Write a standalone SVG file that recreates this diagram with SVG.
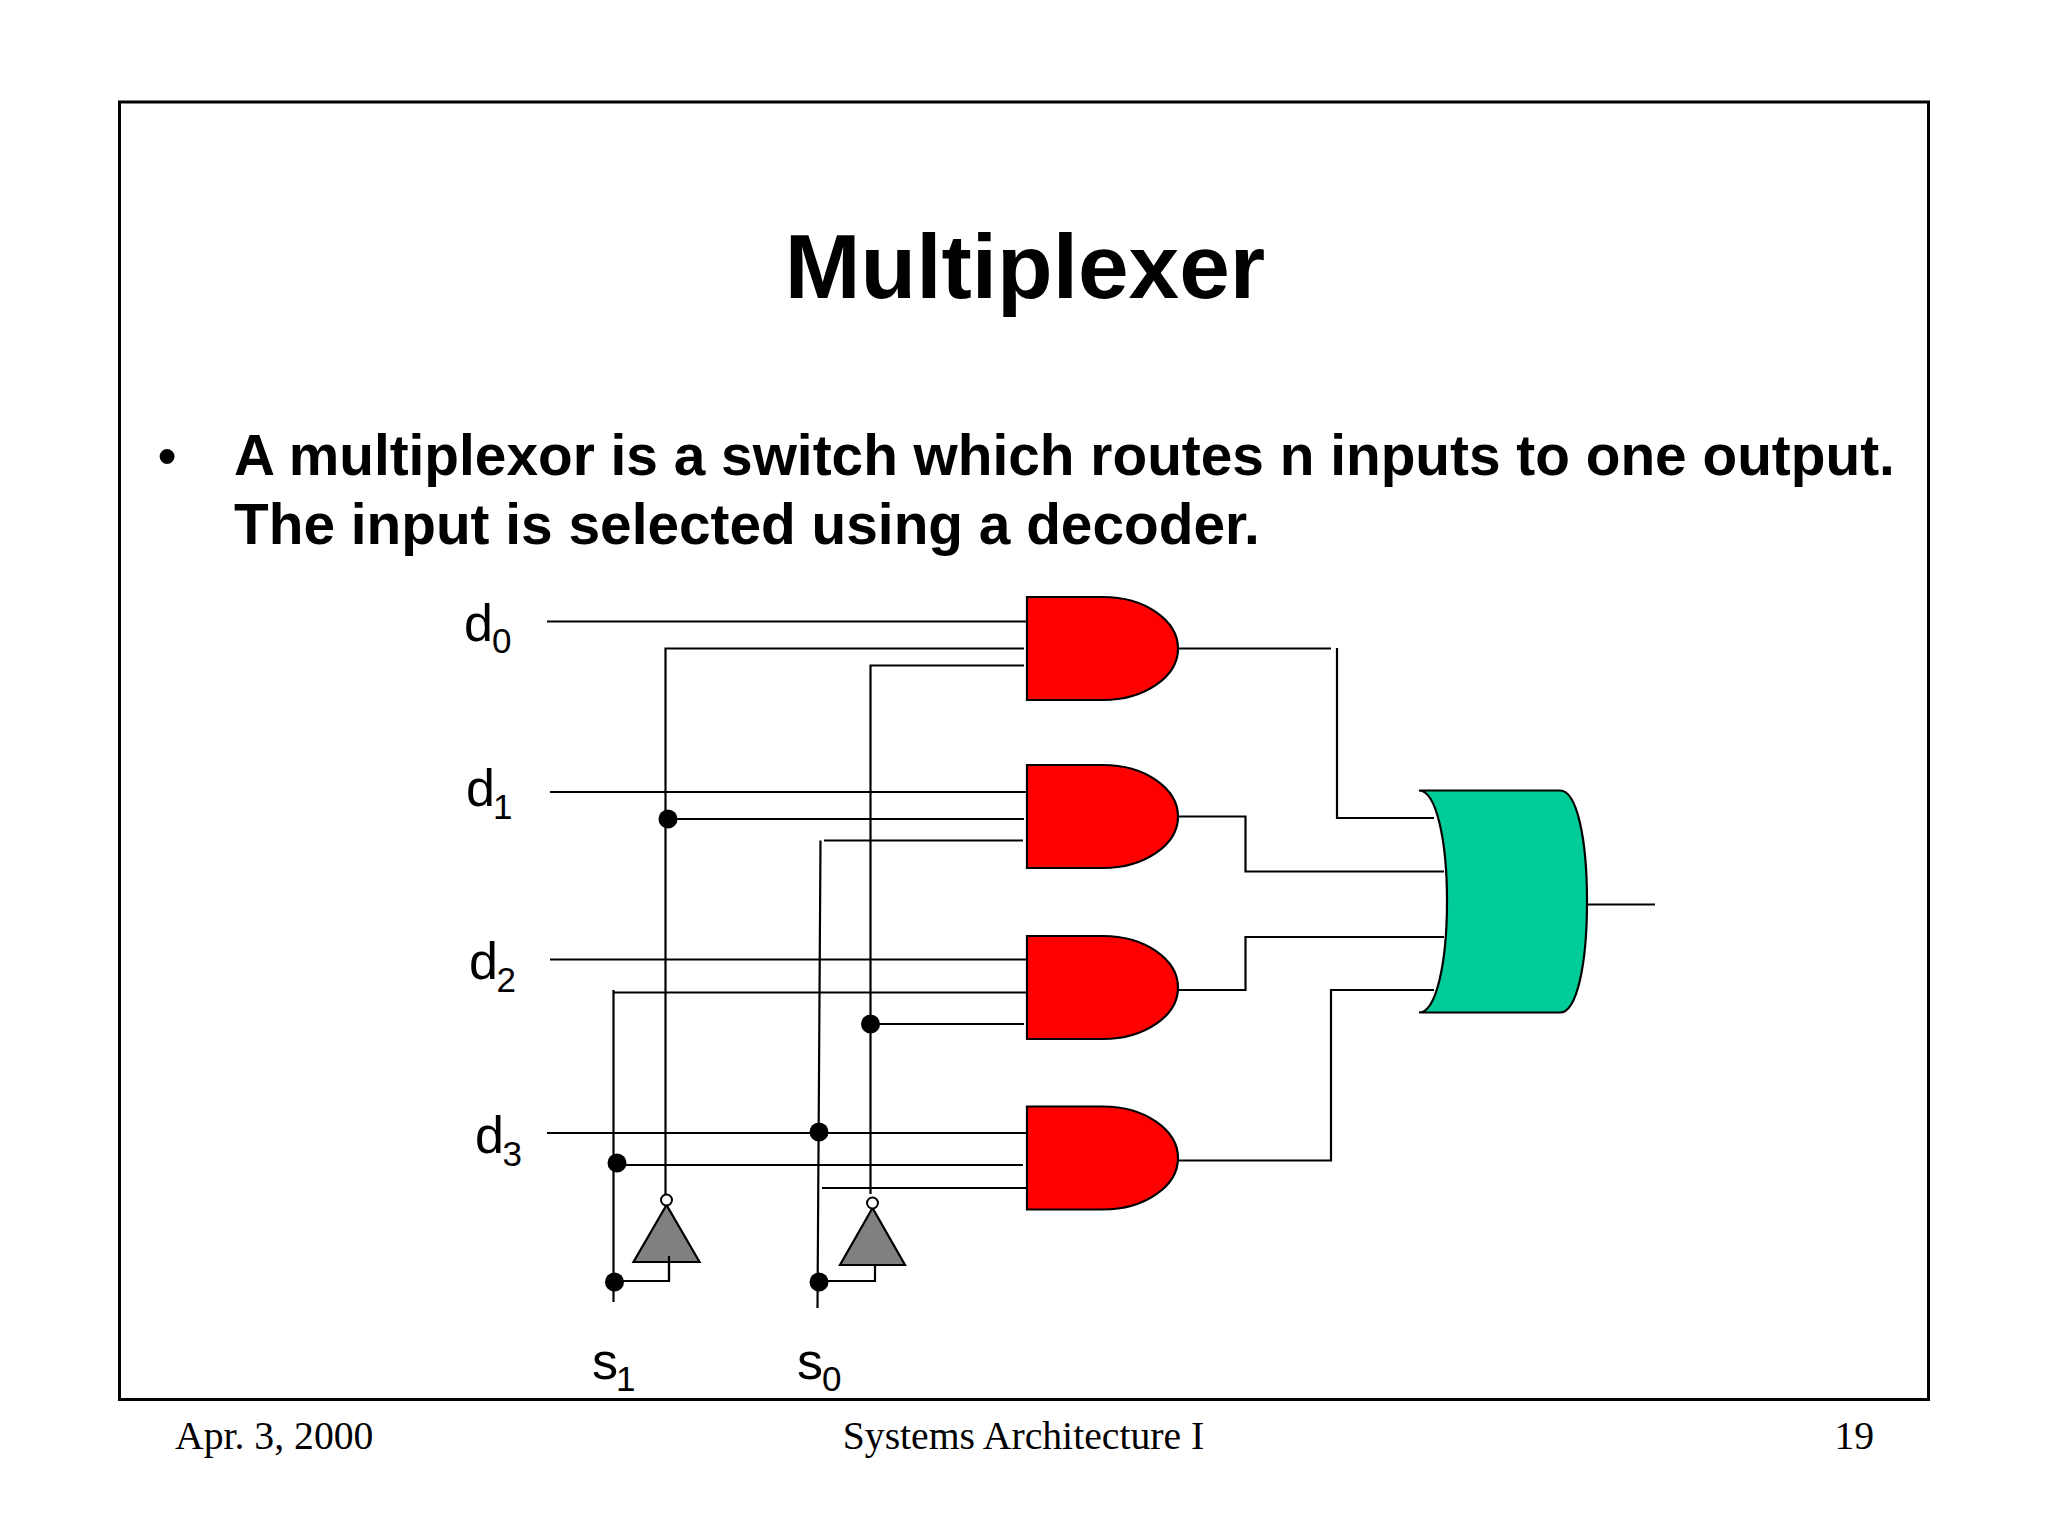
<svg xmlns="http://www.w3.org/2000/svg" width="2048" height="1536" viewBox="0 0 2048 1536">
<style>
text{fill:#000}
.sans{font-family:"Liberation Sans",Arial,sans-serif}
.b{font-weight:700}
.serif{font-family:"Liberation Serif","Times New Roman",serif;font-size:39.700px}
.lab{font-size:52px}
.sub{font-size:35px}
.w{fill:none;stroke:#000;stroke-width:2.2}
.and{fill:#f00;stroke:#000;stroke-width:2.2}
.or{fill:#00cc99;stroke:#000;stroke-width:2.2}
.inv{fill:#808080;stroke:#000;stroke-width:2.2}
.bub{fill:#fff;stroke:#000;stroke-width:2}
.dot{fill:#000}
</style>
<defs>
<path id="andg" class="and" d="M1027 0H1103A75 51.500 0 0 1 1103 103H1027Z"/>
</defs>
<rect width="2048" height="1536" fill="#fff"/>
<rect x="119.500" y="102" width="1809" height="1297.500" fill="none" stroke="#000" stroke-width="3"/>
<text class="sans b" x="1025" y="298" font-size="91" text-anchor="middle">Multiplexer</text>
<text class="sans b" x="158" y="474" font-size="52">•</text>
<text class="sans b" x="234" y="475" font-size="56.800">A multiplexor is a switch which routes n inputs to one output.</text>
<text class="sans b" x="234" y="544" font-size="56.800">The input is selected using a decoder.</text>

<g id="connectors">
<path class="w" d="M547 621.500H1027M665.500 1195V648.500H1024M870.500 1194V665.500H1024"/>
<path class="w" d="M550 792H1027M668 819H1024M1023 840.500H824M820.500 840.500L817.500 1308"/>
<path class="w" d="M550 959.500H1027M1027 992.500H613.500M613.500 990V1302M870 1024H1024"/>
<path class="w" d="M547 1133H1027M617 1165H1023M822 1188H1027"/>
<path class="w" d="M669 1256V1281H615M875 1265V1281H819"/>
<path class="w" d="M1178 648.500H1331M1337 648V819M1337 818H1434"/>
<path class="w" d="M1178 816.500H1245.500V871.500H1444M1178 990H1245.500V937H1444"/>
<path class="w" d="M1178 1160.500H1331V990H1434M1587 904.500H1655"/>
</g>
<g id="and0"><use href="#andg" y="597"/></g>
<g id="and1"><use href="#andg" y="765"/></g>
<g id="and2"><use href="#andg" y="936"/></g>
<g id="and3"><use href="#andg" y="1106.500"/></g>
<g id="or0"><path class="or" d="M1419 790.500H1560C1577 790.500 1587 839 1587 901.500C1587 964 1577 1012.500 1560 1012.500H1419C1436 1012.500 1447 964 1447 901.500C1447 839 1436 790.500 1419 790.500Z"/></g>
<g id="inv1">
<path class="inv" d="M666.500 1205L633.500 1262H699.500Z"/>
<ellipse class="bub" cx="666.500" cy="1200" rx="5.500" ry="5.500"/>
<path class="w" d="M669 1256V1281"/>
</g>
<g id="inv0">
<path class="inv" d="M872.500 1208L840 1265H905Z"/>
<ellipse class="bub" cx="872.500" cy="1203" rx="5.500" ry="5.500"/>
</g>
<g id="junctions">
<circle class="dot" cx="668" cy="819" r="9.500"/>
<circle class="dot" cx="870.500" cy="1024" r="9.500"/>
<circle class="dot" cx="819" cy="1132" r="9.500"/>
<circle class="dot" cx="617" cy="1163" r="9.500"/>
<circle class="dot" cx="614.500" cy="1282" r="9.500"/>
<circle class="dot" cx="819" cy="1282" r="9.500"/>
</g>
<g id="labels" class="sans">
<text class="lab" x="464" y="641">d</text><text class="sub" x="492" y="653">0</text>
<text class="lab" x="466" y="806">d</text><text class="sub" x="493" y="819">1</text>
<text class="lab" x="469" y="979">d</text><text class="sub" x="496.500" y="992">2</text>
<text class="lab" x="475" y="1153">d</text><text class="sub" x="502.500" y="1166">3</text>
<text class="lab" x="592" y="1379">s</text><text class="sub" x="616" y="1391">1</text>
<text class="lab" x="797" y="1379">s</text><text class="sub" x="822" y="1391">0</text>
</g>
<text class="serif" x="175" y="1449">Apr. 3, 2000</text>
<text class="serif" x="1023.500" y="1449" text-anchor="middle">Systems Architecture I</text>
<text class="serif" x="1834.500" y="1449">19</text>
</svg>
